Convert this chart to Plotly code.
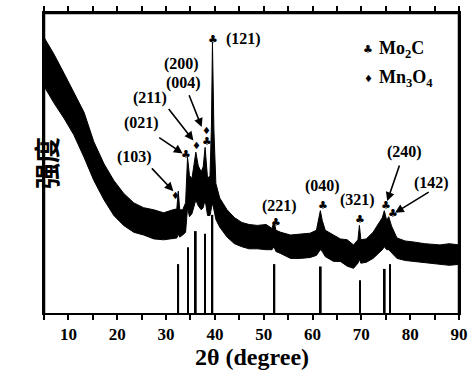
import plotly.graph_objects as go

# ---- XRD pattern, read as upper / lower envelope of the noisy trace ----
two_theta = [5.0, 7.0, 9.1, 11.1, 13.2, 15.2, 17.3, 19.3, 21.3, 23.4, 25.4, 27.5, 29.5, 31.4,
             32.2, 32.5, 32.8, 33.4, 34.0, 34.4, 34.8, 35.3, 35.7, 36.1, 36.6, 37.2, 37.6,
             38.0, 38.5, 39.0, 39.3, 39.5, 39.8, 40.2, 41.0, 42.5, 44.0, 45.5, 47.0, 48.7,
             50.5, 51.7, 52.1, 52.5, 53.5, 55.5, 57.5, 59.5, 60.8, 61.3, 61.6, 62.0, 62.6,
             64.3, 65.7, 67.1, 68.4, 69.3, 69.6, 69.9, 71.0, 72.4, 73.5, 74.3, 74.7, 75.2,
             75.6, 76.2, 77.3, 79.0, 80.6, 83.0, 86.1, 88.0, 90.0]
upper = [91.9, 86.4, 79.9, 73.4, 66.9, 57.1, 49.7, 44.2, 39.9, 36.7, 35.1, 34.4, 33.4, 34.4,
         34.7, 40.6, 34.4, 34.4, 36.7, 51.9, 45.8, 44.8, 49.7, 53.6, 49.0, 47.1, 48.7,
         55.2, 44.8, 45.8, 62.7, 90.3, 61.0, 43.2, 38.3, 34.4, 31.8, 30.2, 29.5, 29.2,
         29.5, 28.2, 30.5, 27.6, 26.9, 26.0, 26.3, 26.6, 27.6, 31.8, 34.1, 30.8, 27.6,
         26.0, 24.7, 24.4, 22.7, 24.4, 29.2, 24.4, 24.7, 26.9, 29.5, 31.8, 34.1, 30.8,
         32.1, 28.9, 25.0, 24.0, 23.7, 23.1, 22.7, 23.1, 22.7]
lower = [75.6, 70.1, 64.9, 59.4, 51.9, 44.2, 37.7, 32.5, 29.2, 26.9, 26.0, 24.7, 24.4, 24.7,
         25.0, 26.3, 25.3, 26.0, 26.9, 35.1, 32.1, 33.1, 35.7, 37.7, 35.7, 34.4, 35.1,
         37.7, 32.5, 32.5, 35.1, 36.7, 34.4, 31.2, 28.6, 25.3, 23.1, 22.1, 21.4, 21.4,
         21.1, 21.1, 22.1, 20.5, 19.8, 18.2, 18.2, 18.5, 19.2, 20.5, 21.1, 20.5, 18.8,
         17.2, 17.2, 15.6, 14.9, 16.6, 17.9, 16.6, 16.9, 18.2, 19.8, 21.1, 22.1, 21.1,
         21.1, 20.1, 18.2, 17.5, 17.2, 16.6, 16.2, 15.9, 16.2]

# ---- reference stick pattern ----
ref_2theta = [32.5, 34.5, 36.1, 38.0, 39.5, 52.2, 61.7, 69.7, 74.8, 75.9]
ref_height = [16.3, 21.9, 27.3, 26.4, 32.7, 16.3, 15.5, 10.9, 14.7, 16.3]

# ---- peak indexing ----
peak_labels = ["(103)", "(021)", "(211)", "(200)", "(004)", "(121)", "(221)", "(040)", "(321)", "(240)", "(142)"]
peak_phase = ["Mn3O4", "Mo2C", "Mn3O4", "Mo2C", "Mn3O4", "Mo2C", "Mo2C", "Mo2C", "Mo2C", "Mo2C", "Mo2C"]
marker_x = [31.9, 34.1, 36.2, 38.3, 38.3, 39.7, 52.6, 62.2, 69.8, 75.1, 76.5]
marker_y = [39.3, 52.7, 55.8, 57.1, 60.7, 91.2, 30.2, 36.0, 31.2, 36.0, 33.1]
label_x = [23.5, 25.0, 26.8, 33.2, 33.6, 45.9, 53.2, 62.0, 69.3, 78.9, 84.4]
label_y = [51.9, 63.3, 71.8, 83.1, 76.6, 91.2, 35.7, 42.2, 37.7, 53.6, 43.2]

# arrows: (tail x, tail y, head x, head y)
arrows = [(26.8, 48.7, 31.5, 40.6),
          (28.3, 58.8, 33.4, 53.2),
          (30.3, 68.5, 35.6, 57.5),
          (34.6, 73.1, 37.3, 62.0),
          (77.9, 49.7, 75.3, 37.3),
          (84.1, 40.6, 76.9, 33.4)]

# x ticks every 5 degrees, labelled every 10
x_ticks = [5, 10, 15, 20, 25, 30, 35, 40, 45, 50, 55, 60, 65, 70, 75, 80, 85, 90]
x_tick_text = ["", "10", "", "20", "", "30", "", "40", "", "50", "", "60", "", "70", "", "80", "", "90"]

X_RANGE = [5, 90]
Y_RANGE = [0, 100]

SERIF = "Liberation Serif"
symbol = {"Mo2C": "♣", "Mn3O4": "♦"}

fig = go.Figure()

fig.add_trace(go.Bar(x=ref_2theta, y=ref_height, width=0.35,
                     marker=dict(color="black", line=dict(width=0)), showlegend=False))

fig.add_trace(go.Scatter(x=two_theta, y=lower, mode="lines",
                         line=dict(color="black", width=1.0), showlegend=False))
fig.add_trace(go.Scatter(x=two_theta, y=upper, mode="lines", fill="tonexty",
                         fillcolor="black", line=dict(color="black", width=1.0), showlegend=False))

ann = []
for lx, ly, t in zip(label_x, label_y, peak_labels):
    ann.append(dict(x=lx, y=ly, text=t, showarrow=False, xref="x", yref="y",
                    font=dict(family=SERIF, size=16, color="black", weight="bold")))
for mx, my, ph in zip(marker_x, marker_y, peak_phase):
    ann.append(dict(x=mx, y=my, text=symbol[ph], showarrow=False, xref="x", yref="y",
                    font=dict(family="DejaVu Sans", size=11 if ph == "Mo2C" else 10, color="black")))
for tx, ty, hx, hy in arrows:
    ann.append(dict(x=hx, y=hy, ax=tx, ay=ty, axref="x", ayref="y", xref="x", yref="y",
                    text="", showarrow=True, arrowhead=2, arrowsize=1.1, arrowwidth=1.6,
                    arrowcolor="black"))

# legend
ann.append(dict(x=71.4, y=87.7, text="♣", showarrow=False, xref="x", yref="y",
                font=dict(family="DejaVu Sans", size=11, color="black")))
ann.append(dict(x=73.3, y=87.7, text="Mo<sub>2</sub>C", showarrow=False, xref="x", yref="y",
                xanchor="left", font=dict(family=SERIF, size=18, color="black", weight="bold")))
ann.append(dict(x=71.4, y=78.2, text="♦", showarrow=False, xref="x", yref="y",
                font=dict(family="DejaVu Sans", size=10, color="black")))
ann.append(dict(x=73.3, y=78.2, text="Mn<sub>3</sub>O<sub>4</sub>", showarrow=False, xref="x", yref="y",
                xanchor="left", font=dict(family=SERIF, size=18, color="black", weight="bold")))

# axis titles
ann.append(dict(x=-0.047, y=0.5, xref="paper", yref="paper", text="强度", textangle=-90,
                showarrow=False, font=dict(family="Noto Sans CJK SC", size=26, color="black", weight="bold")))
ann.append(dict(x=0.5, y=-0.145, xref="paper", yref="paper", text="2θ (degree)",
                showarrow=False, yanchor="middle",
                font=dict(family=SERIF, size=24, color="black", weight="bold")))

fig.update_layout(
    width=474, height=377,
    margin=dict(l=44, r=14, t=6, b=64),
    plot_bgcolor="white", paper_bgcolor="white",
    annotations=ann, showlegend=False,
    shapes=[dict(type="line", xref="paper", yref="paper", x0=0, x1=1, y0=1, y1=1,
                 line=dict(color="black", width=2.5), layer="above"),
            dict(type="line", xref="paper", yref="paper", x0=0, x1=0, y0=0, y1=1,
                 line=dict(color="black", width=2.5), layer="above"),
            dict(type="line", xref="paper", yref="paper", x0=1, x1=1, y0=0, y1=1,
                 line=dict(color="black", width=2.5), layer="above")],
    xaxis=dict(range=X_RANGE, tickmode="array", tickvals=x_ticks, ticktext=x_tick_text,
               ticks="outside", ticklen=5, tickwidth=2,
               tickcolor="black", showline=True, linewidth=2, linecolor="black", mirror="all",
               showgrid=False, zeroline=False,
               tickfont=dict(family=SERIF, size=17, color="black", weight="bold")),
    yaxis=dict(range=Y_RANGE, showticklabels=False, ticks="", showline=True, linewidth=2,
               linecolor="black", mirror="all", showgrid=False, zeroline=False),
)

fig.write_html("out.html", config={"displayModeBar": False},
               post_script="document.body.style.margin='0';document.body.style.padding='0';"
                           "document.body.style.overflow='hidden';")
